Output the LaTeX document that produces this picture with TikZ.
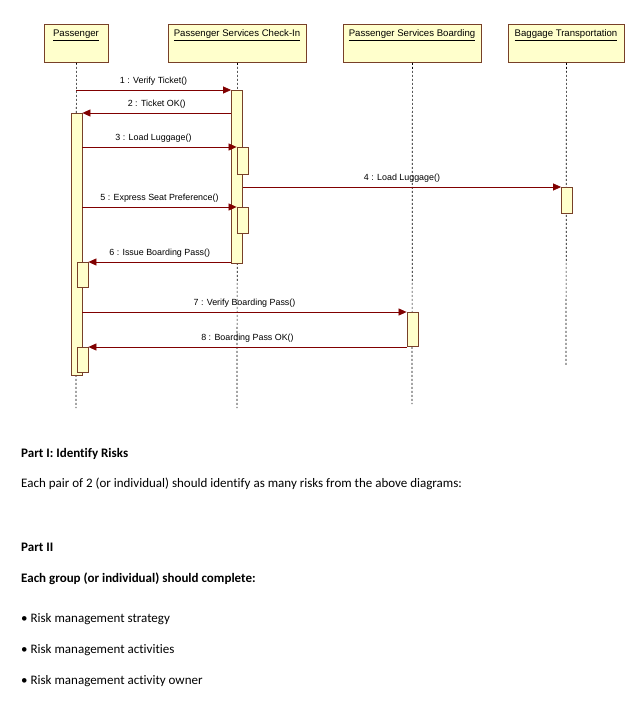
\documentclass[tikz,border=0pt]{standalone}
\usepackage{fontspec}
\setmainfont{Carlito}[Ligatures=NoCommon]
\newfontfamily\umlfont{Liberation Sans}
\usetikzlibrary{arrows.meta}

\definecolor{umlfill}{RGB}{255,255,204}
\definecolor{umledge}{RGB}{120,64,40}
\definecolor{msgred}{RGB}{128,0,0}

\tikzset{
  head/.style={draw=umledge, fill=umlfill, line width=0.8pt, anchor=north west,
    minimum height=38pt, inner sep=0pt},
  headtext/.style={font=\umlfont\fontsize{9.6}{11}\selectfont, inner sep=0pt, anchor=base},
  lifeline/.style={black, line width=0.7pt, dash pattern=on 2pt off 2pt},
  act/.style={draw=umledge, fill=umlfill, line width=0.8pt, anchor=north,
    minimum width=11pt, inner sep=0pt},
  msg/.style={msgred, line width=0.7pt, -{Triangle[length=8pt,width=7pt]}},
  msglabel/.style={font=\umlfont\fontsize{8.9}{10}\selectfont, black, inner sep=0pt,
    above=4pt},
  bodytext/.style={font=\fontsize{13}{15}\selectfont, anchor=base west, inner sep=0pt}
}

\begin{document}
\begin{tikzpicture}[x=1pt,y=-1pt]
  \useasboundingbox (0,0) rectangle (637,708);

  % lifeline heads
  \node[head, minimum width=64pt]  (pas) at (44,24) {};
  \node[head, minimum width=138pt] (chk) at (168,24) {};
  \node[head, minimum width=138pt] (brd) at (343,24) {};
  \node[head, minimum width=116pt] (bag) at (508,24) {};
  \node[headtext] at (76,37)  {\underline{Passenger}};
  \node[headtext] at (237,37) {\underline{Passenger Services Check-In}};
  \node[headtext] at (412,37) {\underline{Passenger Services Boarding}};
  \node[headtext] at (566,37) {\underline{Baggage Transportation}};

  % lifelines
  \coordinate (pasEnd) at (76,408);
  \coordinate (chkEnd) at (237,408);
  \coordinate (brdEnd) at (412,404);
  \coordinate (bagEnd) at (566,366);
  \draw[lifeline] (pas.south) -- (pasEnd);
  \draw[lifeline] (chk.south) -- (chkEnd);
  \draw[lifeline] (brd.south) -- (brdEnd);
  \draw[lifeline] (bag.south) -- (bagEnd);

  % activations
  \coordinate (m1s) at (76,90);
  \node[act, minimum height=262pt] (pasA) at (76.5,113) {};
  \node[act, minimum height=173pt] (chkA) at (237,90) {};
  \node[act, minimum height=27pt] (chkB) at (242.5,147) {};
  \node[act, minimum height=26pt] (chkC) at (242.5,207) {};
  \node[act, minimum height=26pt] (bagA) at (567,187) {};
  \node[act, minimum height=25pt] (pasB) at (82.5,262) {};
  \node[act, minimum height=34pt] (brdA) at (412.5,312) {};
  \node[act, minimum height=25pt] (pasC) at (82.5,347) {};

  % messages
  \draw[msg] (m1s) -- (chkA.north west) node[msglabel, midway] {1 : Verify Ticket()};
  \draw[msg] (chkA.west |- pasA.north) -- (pasA.north east) node[msglabel, midway] {2 : Ticket OK()};
  \draw[msg] (pasA.east |- chkB.north) -- (chkB.north west) node[msglabel, midway, xshift=-6pt] {3 : Load Luggage()};
  \draw[msg] (chkA.east |- bagA.north) -- (bagA.north west) node[msglabel, midway] {4 : Load Luggage()};
  \draw[msg] (pasA.east |- chkC.north) -- (chkC.north west) node[msglabel, midway] {5 : Express Seat Preference()};
  \draw[msg] (chkA.west |- pasB.north) -- (pasB.north east) node[msglabel, midway] {6 : Issue Boarding Pass()};
  \draw[msg] (pasA.east |- brdA.north) -- (brdA.north west) node[msglabel, midway] {7 : Verify Boarding Pass()};
  \draw[msg] (brdA.west |- pasC.north) -- (pasC.north east) node[msglabel, midway] {8 : Boarding Pass OK()};

  % task text
  \node[bodytext] (p1)  at (21,457) {\textbf{Part I: Identify Risks}};
  \node[bodytext] (p1t) at (21,487) {Each pair of 2 (or individual) should identify as many risks from the above diagrams:};
  \node[bodytext] (p2)  at (21,551) {\textbf{Part II}};
  \node[bodytext] (p2t) at (21,582) {\textbf{Each group (or individual) should complete:}};
  \node[bodytext] (b1)  at (21,622) {\textbullet\ Risk management strategy};
  \node[bodytext] (b2)  at (21,653) {\textbullet\ Risk management activities};
  \node[bodytext] (b3)  at (21,684) {\textbullet\ Risk management activity owner};
\end{tikzpicture}
\end{document}
